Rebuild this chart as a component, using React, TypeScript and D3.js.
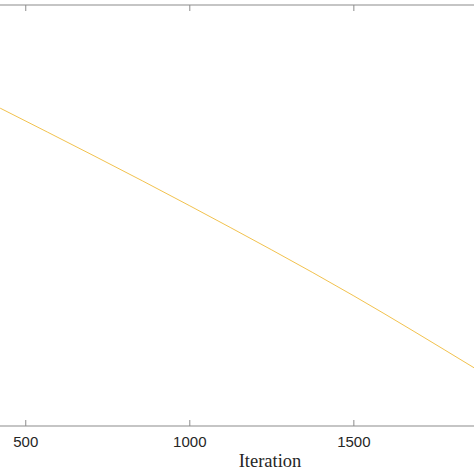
import React, { useEffect, useRef } from 'react';
import * as d3 from 'd3';

// values (y has no visible ticks, arbitrary units)
const iterations = [422, 1000, 1500, 1867];
const values = [0.755, 0.523, 0.309, 0.138];
const xTicks = [500, 1000, 1500];

const W = 474;
const H = 474;

const App: React.FC = () => {
  const svgRef = useRef<SVGSVGElement>(null);

  useEffect(() => {
    document.body.style.margin = '0';
    if (!svgRef.current) return;
    const svg = d3.select(svgRef.current);
    svg.selectAll('*').remove();

    const top = 5;
    const bottom = 426;

    // plot box is cropped left/right, so the x range runs past the canvas
    const x = d3.scaleLinear().domain([0, 2000]).range([-138.3, 517.9]);
    const y = d3.scaleLinear().domain([0, 1]).range([bottom, top]);

    svg.append('rect').attr('width', W).attr('height', H).attr('fill', '#fff');

    const line = d3.line<number>()
      .x((_, i) => x(iterations[i]))
      .y(d => y(d))
      .curve(d3.curveMonotoneX);

    svg.append('path')
      .attr('d', line(values) || '')
      .attr('fill', 'none')
      .attr('stroke', '#EDB120')
      .attr('stroke-width', 0.8);

    // box lines
    const axisColor = '#8c8c8c';
    svg.append('line').attr('x1', 0).attr('x2', W).attr('y1', bottom).attr('y2', bottom)
      .attr('stroke', axisColor).attr('stroke-width', 1.2);
    svg.append('line').attr('x1', 0).attr('x2', W).attr('y1', top).attr('y2', top)
      .attr('stroke', axisColor).attr('stroke-width', 1.2);

    xTicks.forEach(t => {
      svg.append('line').attr('x1', x(t)).attr('x2', x(t)).attr('y1', bottom).attr('y2', bottom - 6)
        .attr('stroke', axisColor).attr('stroke-width', 1);
      svg.append('line').attr('x1', x(t)).attr('x2', x(t)).attr('y1', top).attr('y2', top + 6)
        .attr('stroke', axisColor).attr('stroke-width', 1);
      svg.append('text')
        .attr('x', x(t)).attr('y', 446.5)
        .attr('text-anchor', 'middle')
        .attr('font-family', 'Liberation Sans, Arial, sans-serif')
        .attr('font-size', 15)
        .attr('fill', '#262626')
        .text(String(t));
    });

    svg.append('text')
      .attr('x', 270).attr('y', 466.7)
      .attr('text-anchor', 'middle')
      .attr('font-family', 'Liberation Serif, Times New Roman, serif')
      .attr('font-size', 18.5)
      .attr('fill', '#262626')
      .text('Iteration');
  }, []);

  return <svg ref={svgRef} width={W} height={H} style={{ display: 'block' }} />;
};

export default App;
